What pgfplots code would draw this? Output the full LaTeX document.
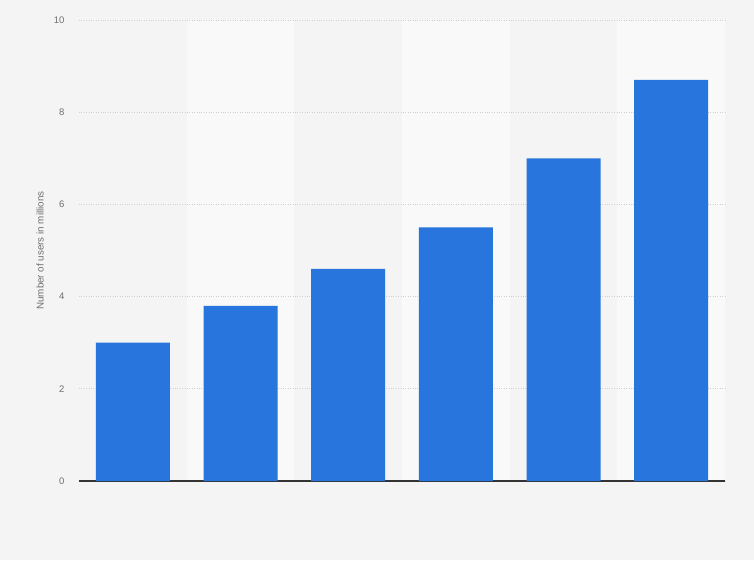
\documentclass[border=0pt]{standalone}
\usepackage{pgfplots}
\pgfplotsset{compat=1.18}
\usepackage{fontspec}
\setmainfont{Liberation Sans}
\definecolor{bgc}{HTML}{F4F4F4}
\definecolor{bandc}{HTML}{F9F9F9}
\definecolor{barc}{HTML}{2876DD}
\definecolor{tickc}{HTML}{6E6E6E}
\definecolor{gridc}{HTML}{D0D0D0}
\begin{document}
\begin{tikzpicture}[x=1pt,y=1pt]
\fill[bgc] (0,0) rectangle (754,560);
\foreach \k in {1,3,5} {
  \fill[bandc] ({79+107.667*\k},79) rectangle ({79+107.667*(\k+1)},540);
}
\begin{axis}[
  at={(79pt,79pt)}, anchor=south west,
  scale only axis, width=646pt, height=461pt,
  xmin=-0.5, xmax=5.5, ymin=0, ymax=10,
  axis x line*=bottom, axis y line*=left,
  x axis line style={draw=black!80, line width=1.2pt, -},
  y axis line style={draw=none},
  xtick=\empty,
  ytick={0,2,4,6,8,10},
  ymajorgrids,
  grid style={dotted, gridc, line width=0.7pt},
  major tick length=0pt,
  tick label style={font=\fontsize{9.5}{10}\selectfont, text=tickc},
  /pgf/number format/assume math mode=true,
  yticklabel style={anchor=east, xshift=-11pt},
  ylabel={Number of users in millions},
  every axis y label/.style={at={(-39pt,230.5pt)}, rotate=90, anchor=center,
    font=\fontsize{9.8}{11}\selectfont, text=tickc},
  ybar, bar width=74pt,
]
\addplot[fill=barc, draw=none] coordinates {(0,3.0) (1,3.8) (2,4.6) (3,5.5) (4,7.0) (5,8.7)};
\end{axis}
\end{tikzpicture}
\end{document}
